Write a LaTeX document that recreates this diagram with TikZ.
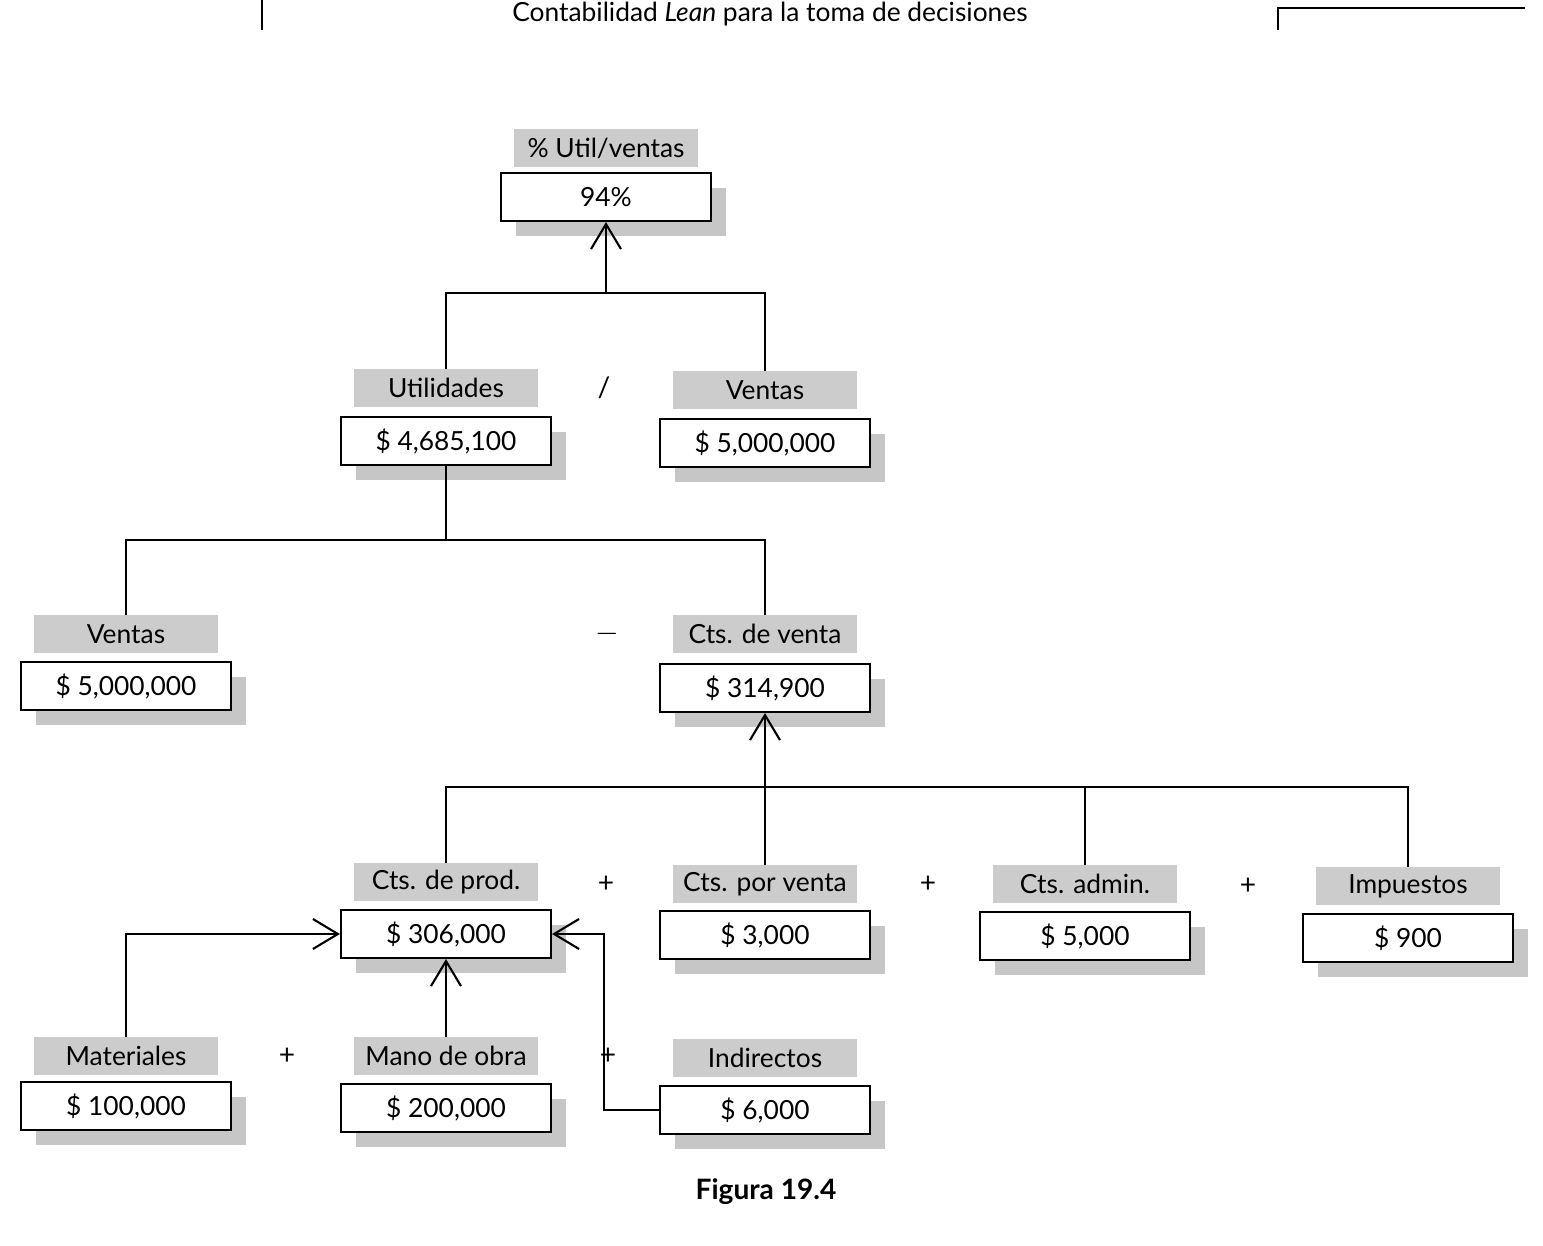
\documentclass[tikz,border=0pt]{standalone}
\usepackage{fontspec}
\setmainfont{Lato}
\usetikzlibrary{arrows.meta,shadows}

\tikzset{
  valbox/.style={draw, very thick, fill=white, minimum width=4.2cm, minimum height=0.96cm,
    font=\fontsize{15}{18}\selectfont,
    drop shadow={shadow xshift=0.3cm, shadow yshift=-0.3cm, fill=gray!45, opacity=1}},
  tagbox/.style={fill=gray!40, minimum width=3.7cm, minimum height=0.76cm,
    font=\fontsize{15}{18}\selectfont},
  opsign/.style={font=\fontsize{16}{18}\selectfont},
  link/.style={very thick},
  uparrow/.style={very thick, -{Straight Barb[length=5mm,width=6mm]}}
}

\begin{document}
\begin{tikzpicture}[x=0.02cm, y=-0.02cm]
\useasboundingbox (0,0) rectangle (1543,1246);

% header
\draw[thick] (262,0) -- (262,30);
\draw[thick] (1278,30) -- (1278,8) -- (1525,8);
\node[font=\fontsize{15}{18}\selectfont] (head) at (770,14) {Contabilidad \textit{Lean} para la toma de decisiones};

% top level
\node[tagbox] (utilvtag) at (606,148) {\% Util/ventas};
\node[valbox] (utilv) at (606,197) {94\%};

\node[tagbox] (utiltag) at (446,388) {Utilidades};
\node[valbox] (util) at (446,441) {\$ 4,685,100};
\node[opsign] (div) at (604,388) {/};
\node[tagbox] (venttag) at (765,390) {Ventas};
\node[valbox] (vent) at (765,443) {\$ 5,000,000};

% second level
\node[tagbox] (vent2tag) at (126,634) {Ventas};
\node[valbox] (vent2) at (126,686) {\$ 5,000,000};
\node[opsign] (minus) at (607,634) {$-$};
\node[tagbox] (ctsvtag) at (765,634) {Cts. de venta};
\node[valbox] (ctsv) at (765,688) {\$ 314,900};

% third level
\node[tagbox] (prodtag) at (446,882) {Cts. de prod.};
\node[valbox] (prod) at (446,934) {\$ 306,000};
\node[opsign] (plusa) at (606,884) {+};
\node[tagbox] (portag) at (765,884) {Cts. por venta};
\node[valbox] (por) at (765,935) {\$ 3,000};
\node[opsign] (plusb) at (928,884) {+};
\node[tagbox] (admtag) at (1085,884) {Cts. admin.};
\node[valbox] (adm) at (1085,936) {\$ 5,000};
\node[opsign] (plusc) at (1248,886) {+};
\node[tagbox] (imptag) at (1408,886) {Impuestos};
\node[valbox] (imp) at (1408,938) {\$ 900};

% fourth level
\node[tagbox] (mattag) at (126,1056) {Materiales};
\node[valbox] (mat) at (126,1106) {\$ 100,000};
\node[opsign] (plusd) at (287,1056) {+};
\node[tagbox] (manotag) at (446,1056) {Mano de obra};
\node[valbox] (mano) at (446,1108) {\$ 200,000};
\node[opsign] (pluse) at (608,1056) {+};
\node[tagbox] (indtag) at (765,1058) {Indirectos};
\node[valbox] (ind) at (765,1110) {\$ 6,000};

\node[font=\bfseries\fontsize{16}{18}\selectfont] (fig) at (766,1192) {Figura 19.4};

% connectors
\coordinate (j1) at (606,293);
\draw[link] (utiltag.north) |- (j1) -| (venttag.north);
\draw[uparrow] (j1) -- (utilv.south);

\coordinate (j2) at (446,540);
\draw[link] (util.south) -- (j2);
\draw[link] (vent2tag.north) |- (j2) -| (ctsvtag.north);

\coordinate (j3) at (765,787);
\draw[link] (prodtag.north) |- (j3) -| (imptag.north);
\draw[link] (admtag.north) -- (admtag.north |- j3);
\draw[uparrow] (portag.north) -- (ctsv.south);

\draw[uparrow] (mattag.north) |- (prod.west);
\draw[uparrow] (manotag.north) -- (prod.south);
\coordinate (j4) at (604,1110);
\draw[uparrow] (ind.west) -- (j4) |- (prod.east);
\end{tikzpicture}
\end{document}
